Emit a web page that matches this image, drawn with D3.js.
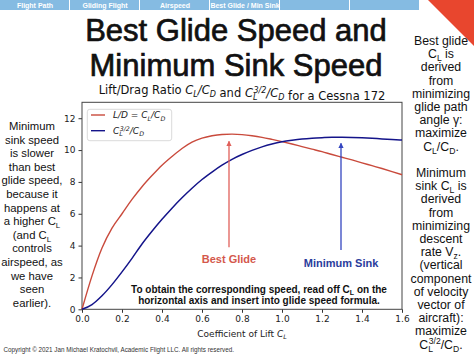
<!DOCTYPE html>
<html>
<head>
<meta charset="utf-8">
<script src="https://cdn.jsdelivr.net/npm/d3@7"></script>
<style>
  body { margin: 0; background: #fff; }
  svg { display: block; }
  .sans { font-family: "Liberation Sans", Arial, Helvetica, sans-serif; }
  .mpl { font-family: "DejaVu Sans", sans-serif; }
</style>
</head>
<body>
<div id="slide"></div>
<script>
// data vars
const navLabels = ["Flight Path", "Gliding Flight", "Airspeed", "Best Glide / Min Sink", "", ""];

const liftCoef = [0, 0.05, 0.1, 0.15, 0.2, 0.25, 0.3, 0.35, 0.4, 0.45, 0.5, 0.55, 0.6, 0.65, 0.7, 0.75, 0.8,
  0.85, 0.9, 0.95, 1.0, 1.05, 1.1, 1.15, 1.2, 1.25, 1.3, 1.35, 1.4, 1.45, 1.5, 1.55, 1.6];

const liftDrag = [0, 2.1, 3.85, 5.1, 6.0, 6.9, 7.7, 8.4, 9.05, 9.6, 10.1, 10.5, 10.75, 10.9, 10.98, 11.0, 10.97,
  10.9, 10.8, 10.67, 10.53, 10.38, 10.22, 10.06, 9.9, 9.72, 9.55, 9.38, 9.2, 9.02, 8.84, 8.65, 8.45];

const sinkRatio = [0, 0.3, 0.85, 1.55, 2.35, 3.2, 4.1, 4.9, 5.65, 6.35, 7.0, 7.6, 8.15, 8.62, 9.05, 9.42, 9.72,
  9.98, 10.2, 10.38, 10.52, 10.62, 10.7, 10.75, 10.78, 10.8, 10.8, 10.79, 10.77, 10.74, 10.7, 10.67, 10.63];

const xTicks = [0, 0.2, 0.4, 0.6, 0.8, 1.0, 1.2, 1.4, 1.6];
const yTicks = [0, 2, 4, 6, 8, 10, 12];

// arrows: best glide, minimum sink
const arrowCL = [0.735, 1.295];
const arrowFrom = [3.9, 3.72];
const arrowTo = [10.55, 10.43];
const arrowLabels = ["Best Glide", "Minimum Sink"];
const arrowLabelY = [2.93, 2.66];

const leftNotes = ["Minimum", "sink speed", "is slower", "than best", "glide speed,", "because it",
  "happens at", "a higher C_{L}", "(and C_{L}", "controls", "airspeed, as", "we have", "seen", "earlier)."];

const rightNotes = ["Best glide", "C_{L} is", "derived", "from", "minimizing", "glide path", "angle γ:",
  "maximize", "C_{L}/C_{D}.", "", "Minimum", "sink C_{L} is", "derived", "from", "minimizing", "descent",
  "rate V_{z}.", "(vertical", "component", "of velocity", "vector of", "aircraft):", "maximize",
  "C_{L}^{3/2}/C_{D}."];

const noteLines = ["To obtain the corresponding speed, read off C_{L} on the",
  "horizontal axis and insert into glide speed formula."];

// constants
const width = 474;
const height = 355;
const margin = { top: 102.3, right: 72, bottom: 45.7, left: 82 };

const red = "#c94a3c";
const blue = "#14148a";

const svg = d3.select("#slide")
  .append("svg")
  .attr("width", width)
  .attr("height", height)
  .attr("viewBox", [0, 0, width, height]);

// text with _{sub} and ^{sup} parts, shifted with dy
function richText(sel, str, size, stackSup) {
  const parts = str.split(/([_^]\{[^}]*\})/).filter(s => s.length);
  let cur = 0;
  let subW = 0;
  parts.forEach(p => {
    let target = 0, txt = p, small = false, dx = 0;
    if (p.startsWith("_{")) {
      target = 0.25 * size; txt = p.slice(2, -1); small = true;
      subW = txt.length * 0.5 * size * 0.7;
    } else if (p.startsWith("^{")) {
      target = -0.38 * size; txt = p.slice(2, -1); small = true;
      if (stackSup) dx = -subW;
    }
    const t = sel.append("tspan").attr("dy", target - cur).text(txt);
    if (small) t.attr("font-size", size * 0.7);
    if (dx) t.attr("dx", dx);
    cur = target;
  });
  return sel;
}

// nav bar
const nav = d3.scaleBand().domain(d3.range(navLabels.length)).range([0, 420]);

svg.append("g")
  .selectAll("rect")
  .data(navLabels)
  .join("rect")
  .attr("x", (d, i) => nav(i))
  .attr("y", 0)
  .attr("width", nav.bandwidth() - 1)
  .attr("height", 10)
  .attr("fill", "#85bbe2");

svg.append("g")
  .selectAll("text")
  .data(navLabels)
  .join("text")
  .attr("class", "sans")
  .attr("x", (d, i) => nav(i) + nav.bandwidth() / 2)
  .attr("y", 7.5)
  .attr("text-anchor", "middle")
  .attr("font-size", 7)
  .attr("font-weight", "bold")
  .attr("fill", "#fff")
  .text(d => d);

svg.append("polygon")
  .attr("points", "428,0 474,0 474,46")
  .attr("fill", "#e8462e");

// title
svg.append("g")
  .selectAll("text")
  .data(["Best Glide Speed and", "Minimum Sink Speed"])
  .join("text")
  .attr("class", "sans")
  .attr("x", 236)
  .attr("y", (d, i) => 41.3 + i * 35)
  .attr("text-anchor", "middle")
  .attr("font-size", 31)
  .attr("fill", "#111")
  .attr("stroke", "#111")
  .attr("stroke-width", 0.7)
  .text(d => d);

// subtitle
const subSize = 11.5;
const sub = svg.append("text")
  .attr("class", "mpl")
  .attr("x", 242)
  .attr("y", 94.3)
  .attr("text-anchor", "middle")
  .attr("font-size", subSize)
  .attr("fill", "#111");
sub.append("tspan").text("Lift/Drag Ratio ");
richText(sub.append("tspan").attr("font-style", "italic"), "C_{L}/C_{D}", subSize);
sub.append("tspan").text(" and ");
richText(sub.append("tspan").attr("font-style", "italic"), "C_{L}^{3/2}/C_{D}", subSize, true);
sub.append("tspan").text(" for a Cessna 172");

// scales
const x = d3.scaleLinear()
  .domain([0, 1.6])
  .range([margin.left, width - margin.right]);

const y = d3.scaleLinear()
  .domain([0, 13])
  .range([height - margin.bottom, margin.top]);

let xAxis = g => g
  .attr("transform", `translate(0, ${ height - margin.bottom })`)
  .call(d3.axisBottom(x).tickValues(xTicks).tickFormat(d3.format(".1f")).tickSize(3.5).tickPadding(3).tickSizeOuter(0))
  .call(g => g.select(".domain").remove());

let yAxis = g => g
  .attr("transform", `translate(${ margin.left }, 0)`)
  .call(d3.axisLeft(y).tickValues(yTicks).tickSize(3.5).tickPadding(3).tickSizeOuter(0))
  .call(g => g.select(".domain").remove());

const axis = svg.append("g").attr("class", "mpl");
axis.append("g").call(xAxis);
axis.append("g").call(yAxis);
axis.selectAll(".tick text").attr("font-family", "DejaVu Sans").attr("font-size", 9).attr("fill", "#222");
axis.selectAll(".tick line").attr("stroke", "#333");

svg.append("rect")
  .attr("x", margin.left)
  .attr("y", margin.top)
  .attr("width", width - margin.right - margin.left)
  .attr("height", height - margin.bottom - margin.top)
  .attr("fill", "none")
  .attr("stroke", "#444")
  .attr("stroke-width", 1);

const xLabel = svg.append("text")
  .attr("class", "mpl")
  .attr("x", (margin.left + width - margin.right) / 2)
  .attr("y", 336.5)
  .attr("text-anchor", "middle")
  .attr("font-size", 9)
  .attr("fill", "#222");
xLabel.append("tspan").text("Coefficient of Lift  ");
richText(xLabel.append("tspan").attr("font-style", "italic"), "C_{L}", 9);

// curves
const line = d3.line()
  .x((d, i) => x(liftCoef[i]))
  .y(d => y(d))
  .curve(d3.curveMonotoneX);

svg.append("path")
  .attr("d", line(liftDrag))
  .attr("fill", "none")
  .attr("stroke", red)
  .attr("stroke-width", 1.4);

svg.append("path")
  .attr("d", line(sinkRatio))
  .attr("fill", "none")
  .attr("stroke", blue)
  .attr("stroke-width", 1.5);

// arrows
const arrowColors = ["#e0605a", "#3446c0"];
const labelColors = ["#d4584c", "#2a3c9c"];
const defs = svg.append("defs");
arrowColors.forEach((c, i) => {
  defs.append("marker")
    .attr("id", "head" + i)
    .attr("viewBox", "0 0 10 10")
    .attr("refX", 9)
    .attr("refY", 5)
    .attr("markerWidth", 4)
    .attr("markerHeight", 4)
    .attr("orient", "auto")
    .append("path")
    .attr("d", "M0,0 L10,5 L0,10 z")
    .attr("fill", c);
});

svg.append("g")
  .selectAll("line")
  .data(arrowCL)
  .join("line")
  .attr("x1", d => x(d))
  .attr("x2", d => x(d))
  .attr("y1", (d, i) => y(arrowFrom[i]))
  .attr("y2", (d, i) => y(arrowTo[i]))
  .attr("stroke", (d, i) => arrowColors[i])
  .attr("stroke-width", 1.3)
  .attr("marker-end", (d, i) => `url(#head${i})`);

svg.append("g")
  .selectAll("text")
  .data(arrowLabels)
  .join("text")
  .attr("class", "sans")
  .attr("x", (d, i) => x(arrowCL[i]))
  .attr("y", (d, i) => y(arrowLabelY[i]))
  .attr("text-anchor", "middle")
  .attr("font-size", 11)
  .attr("font-weight", "bold")
  .attr("fill", (d, i) => labelColors[i])
  .text(d => d);

// note inside plot
noteLines.forEach((s, i) => {
  richText(svg.append("text")
    .attr("class", "sans")
    .attr("x", 259)
    .attr("y", 292.6 + i * 11.8)
    .attr("text-anchor", "middle")
    .attr("font-size", 10)
    .attr("font-weight", "bold")
    .attr("fill", "#111"), s, 10);
});

// legend
const legend = svg.append("g");
legend.append("rect")
  .attr("x", 87.3)
  .attr("y", 109.3)
  .attr("width", 84.4)
  .attr("height", 31.4)
  .attr("rx", 2.5)
  .attr("fill", "#fff")
  .attr("fill-opacity", 0.85)
  .attr("stroke", "#d0d0d0")
  .attr("stroke-width", 0.8);

[red, blue].forEach((c, i) => {
  legend.append("line")
    .attr("x1", 91)
    .attr("x2", 105)
    .attr("y1", 115 + i * 15.7)
    .attr("y2", 115 + i * 15.7)
    .attr("stroke", c)
    .attr("stroke-width", 1.4);
});

["L/D = C_{L}/C_{D}", "C_{L}^{3/2}/C_{D}"].forEach((s, i) => {
  richText(legend.append("text")
    .attr("class", "mpl")
    .attr("x", 113)
    .attr("y", 118.3 + i * 15.7)
    .attr("font-size", 9)
    .attr("font-style", "italic")
    .attr("fill", "#222"), s, 9, true);
});

// side notes
svg.append("g")
  .selectAll("text")
  .data(leftNotes)
  .join("text")
  .attr("class", "sans")
  .attr("x", 32)
  .attr("y", (d, i) => 130 + i * 13.6)
  .attr("text-anchor", "middle")
  .attr("font-size", 11.3)
  .attr("fill", "#111")
  .each(function(d) { richText(d3.select(this), d, 11.3); });

svg.append("g")
  .selectAll("text")
  .data(rightNotes)
  .join("text")
  .attr("class", "sans")
  .attr("x", 441)
  .attr("y", (d, i) => 45 + i * 13.2)
  .attr("text-anchor", "middle")
  .attr("font-size", 12.3)
  .attr("fill", "#111")
  .each(function(d) { richText(d3.select(this), d, 12.3, true); });

// footer
svg.append("text")
  .attr("class", "sans")
  .attr("x", 3.5)
  .attr("y", 352)
  .attr("font-size", 6.3)
  .attr("fill", "#333")
  .text("Copyright © 2021 Jan Michael Kratochvil, Academic Flight LLC. All rights reserved.");
</script>
</body>
</html>
